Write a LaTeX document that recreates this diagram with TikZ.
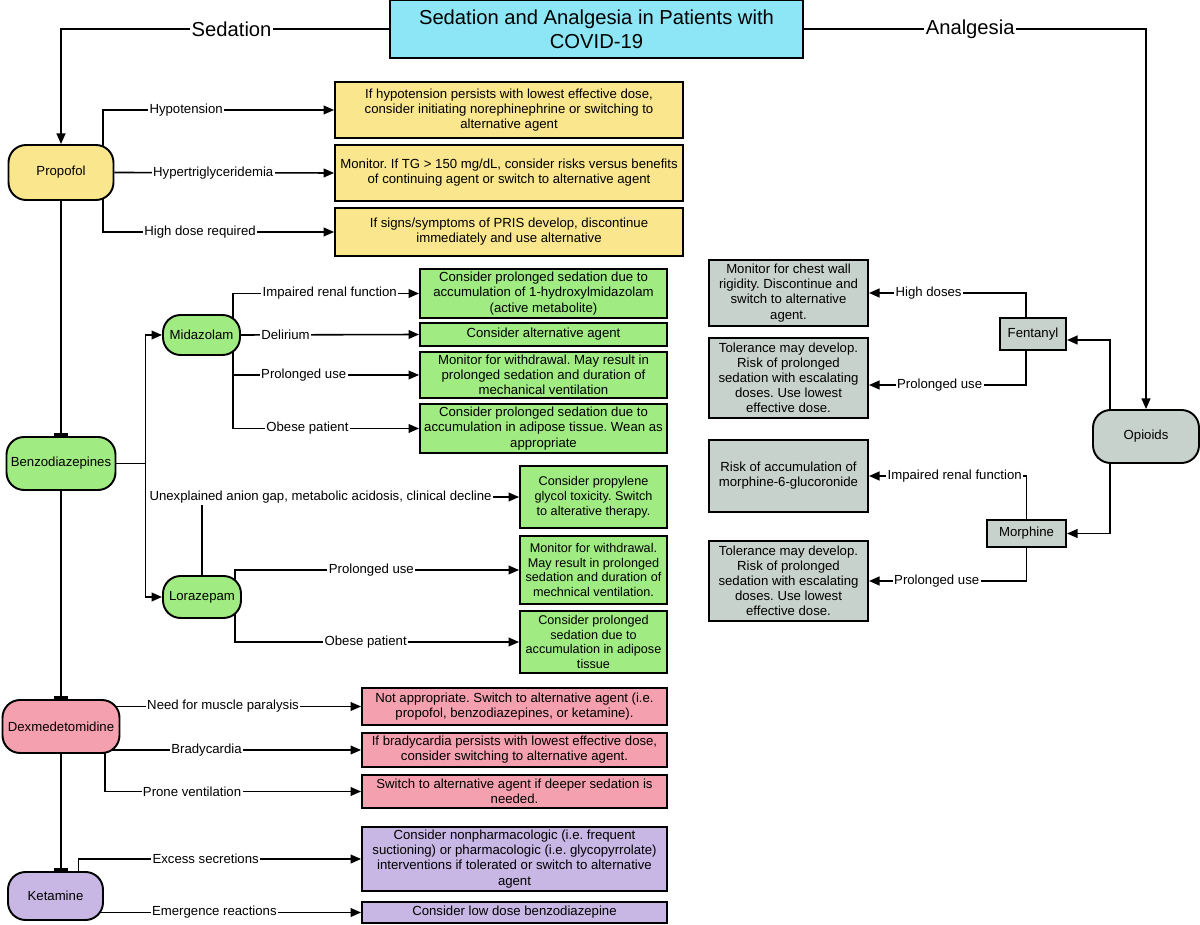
\documentclass[tikz,border=0pt]{standalone}
\usepackage{fontspec}
\setmainfont{Liberation Sans}
\frenchspacing
\usetikzlibrary{arrows.meta, calc, backgrounds}

\definecolor{titlecyan}{RGB}{140,230,245}
\definecolor{propyel}{RGB}{250,230,140}
\definecolor{benzgreen}{RGB}{160,235,130}
\definecolor{dexpink}{RGB}{245,160,175}
\definecolor{ketpurple}{RGB}{200,182,228}
\definecolor{opigray}{RGB}{200,210,205}

\tikzset{
  drug/.style   ={draw, line width=1.1pt, rounded corners=10pt, align=center,
                  font=\fontsize{7.5}{9}\selectfont, inner sep=2pt},
  note/.style   ={draw, line width=1.1pt, align=center,
                  font=\fontsize{7.5}{8.6}\selectfont, inner sep=2pt},
  arr/.style    ={-{Triangle[length=6pt, width=5pt]}, line width=0.9pt},
  barend/.style ={-{Bar[width=8pt, line width=1.6pt]}, line width=0.9pt},
  lbl/.style    ={fill=white, inner sep=0.8pt, font=\fontsize{7.5}{9}\selectfont},
  head/.style   ={fill=white, inner sep=1pt, font=\fontsize{11.5}{13}\selectfont},
}

\begin{document}
\begin{tikzpicture}[x=0.02cm, y=-0.02cm]
  \useasboundingbox (0,0) rectangle (1200,925);

  \node[note, fill=titlecyan, font=\fontsize{11.5}{13.5}\selectfont,
        minimum width=8.26cm, minimum height=1.16cm] (title) at (596.5,29)
        {Sedation and Analgesia in Patients with\\COVID-19};

  % propofol
  \node[drug, fill=propyel, minimum width=2.1cm, minimum height=1.1cm] (prop) at (61,172.5) {Propofol};
  \node[note, fill=propyel, minimum width=6.96cm, minimum height=1.12cm] (pb1) at (509,110)
        {If hypotension persists with lowest effective dose,\\consider initiating norephinephrine or switching to\\alternative agent};
  \node[note, fill=propyel, minimum width=6.96cm, minimum height=1.12cm] (pb2) at (509,173)
        {Monitor. If TG > 150 mg/dL, consider risks versus benefits\\of continuing agent or switch to alternative agent};
  \node[note, fill=propyel, minimum width=6.96cm, minimum height=0.96cm] (pb3) at (509,232)
        {If signs/symptoms of PRIS develop, discontinue\\immediately and use alternative};

  % benzodiazepines
  \node[drug, fill=benzgreen, minimum width=2.18cm, minimum height=1.06cm] (benzo) at (61,463.5) {Benzodiazepines};
  \node[drug, fill=benzgreen, minimum width=1.54cm, minimum height=0.8cm] (mida) at (201.5,335) {Midazolam};
  \node[drug, fill=benzgreen, minimum width=1.56cm, minimum height=0.84cm] (lora) at (202,597) {Lorazepam};
  \node[note, fill=benzgreen, minimum width=4.94cm, minimum height=0.94cm] (mb1) at (543.5,293.5)
        {Consider prolonged sedation due to\\accumulation of 1-hydroxylmidazolam\\(active metabolite)};
  \node[note, fill=benzgreen, minimum width=4.94cm, minimum height=0.46cm] (mb2) at (543.5,334.5)
        {Consider alternative agent};
  \node[note, fill=benzgreen, minimum width=4.94cm, minimum height=0.88cm] (mb3) at (543.5,375)
        {Monitor for withdrawal. May result in\\prolonged sedation and duration of\\mechanical ventilation};
  \node[note, fill=benzgreen, minimum width=4.94cm, minimum height=0.98cm] (mb4) at (543.5,428.5)
        {Consider prolonged sedation due to\\accumulation in adipose tissue. Wean as\\appropriate};
  \node[note, fill=benzgreen, font=\fontsize{7.2}{8.4}\selectfont,
        minimum width=2.94cm, minimum height=1.24cm] (lb1) at (593.5,497)
        {Consider propylene\\glycol toxicity. Switch\\to alterative therapy.};
  \node[note, fill=benzgreen, font=\fontsize{7.2}{8.4}\selectfont,
        minimum width=2.94cm, minimum height=1.36cm] (lb2) at (593.5,570)
        {Monitor for withdrawal.\\May result in prolonged\\sedation and duration of\\mechnical ventilation.};
  \node[note, fill=benzgreen, font=\fontsize{7.2}{8.4}\selectfont,
        minimum width=2.94cm, minimum height=1.24cm] (lb3) at (593.5,642)
        {Consider prolonged\\sedation due to\\accumulation in adipose\\tissue};

  % dexmedetomidine
  \node[drug, fill=dexpink, minimum width=2.34cm, minimum height=1.06cm] (dex) at (61,726.5) {Dexmedetomidine};
  \node[note, fill=dexpink, minimum width=6.1cm, minimum height=0.74cm] (db1) at (514.5,706.5)
        {Not appropriate. Switch to alternative agent (i.e.\\propofol, benzodiazepines, or ketamine).};
  \node[note, fill=dexpink, minimum width=6.1cm, minimum height=0.68cm] (db2) at (514.5,750)
        {If bradycardia persists with lowest effective dose,\\consider switching to alternative agent.};
  \node[note, fill=dexpink, minimum width=6.1cm, minimum height=0.66cm] (db3) at (514.5,791.5)
        {Switch to alternative agent if deeper sedation is\\needed.};

  % ketamine
  \node[drug, fill=ketpurple, minimum width=1.9cm, minimum height=0.96cm] (keta) at (55.5,896) {Ketamine};
  \node[note, fill=ketpurple, minimum width=6.1cm, minimum height=1.28cm] (kb1) at (514.5,859)
        {Consider nonpharmacologic (i.e. frequent\\suctioning) or pharmacologic (i.e. glycopyrrolate)\\interventions if tolerated or switch to alternative\\agent};
  \node[note, fill=ketpurple, minimum width=6.1cm, minimum height=0.42cm] (kb2) at (514.5,912.5)
        {Consider low dose benzodiazepine};

  % opioids
  \node[drug, fill=opigray, minimum width=2.12cm, minimum height=1.06cm] (opi) at (1146,436.5) {Opioids};
  \node[note, fill=opigray, minimum width=1.32cm, minimum height=0.64cm] (fent) at (1033,334) {Fentanyl};
  \node[note, fill=opigray, minimum width=1.58cm, minimum height=0.54cm] (morph) at (1026.5,533.5) {Morphine};
  \node[note, fill=opigray, minimum width=3.18cm, minimum height=1.32cm] (fb1) at (788.5,293)
        {Monitor for chest wall\\rigidity. Discontinue and\\switch to alternative\\agent.};
  \node[note, fill=opigray, minimum width=3.18cm, minimum height=1.6cm] (fb2) at (788.5,378)
        {Tolerance may develop.\\Risk of prolonged\\sedation with escalating\\doses. Use lowest\\effective dose.};
  \node[note, fill=opigray, minimum width=3.18cm, minimum height=1.44cm] (ob1) at (788.5,476)
        {Risk of accumulation of\\morphine-6-glucoronide};
  \node[note, fill=opigray, minimum width=3.18cm, minimum height=1.6cm] (ob2) at (788.5,581)
        {Tolerance may develop.\\Risk of prolonged\\sedation with escalating\\doses. Use lowest\\effective dose.};

  \coordinate (bsplit) at ($(benzo.east)+(29,0)$);

  \begin{scope}[on background layer]
    \draw[arr] (title.west) -| node[head, pos=0.24]{Sedation} (prop.north);
    \draw[arr] (title.east) -| node[head, pos=0.243]{Analgesia} (opi.north);

    \draw[arr] ($(prop)+(42,0)$) |- node[lbl, pos=0.68]{Hypotension} (pb1.west);
    \draw[arr] (prop.east) -- node[lbl, pos=0.45]{Hypertriglyceridemia} (pb2.west);
    \draw[arr] ($(prop)+(42,0)$) |- node[lbl, pos=0.71]{High dose required} (pb3.west);
    \draw[barend] (prop.south) -- (benzo.north);

    \draw[line width=0.9pt] (benzo.east) -- (bsplit);
    \draw[arr] (bsplit) |- (mida.west);
    \draw[arr] (bsplit) |- (lora.west);
    \draw[barend] (benzo.south) -- (dex.north);

    \draw[arr] ($(mida)+(31.5,0)$) |- node[lbl, pos=0.76]{Impaired renal function} (mb1.west);
    \draw[arr] (mida.east) -- node[lbl, pos=0.25]{Delirium} (mb2.west);
    \draw[arr] ($(mida)+(31.5,0)$) |- node[lbl, pos=0.69]{Prolonged use} (mb3.west);
    \draw[arr] ($(mida)+(31.5,0)$) |- node[lbl, pos=0.70]{Obese patient} (mb4.west);

    \draw[arr] (lora.center) |- node[lbl, pos=0.687]{Unexplained anion gap, metabolic acidosis, clinical decline} (lb1.west);
    \draw[arr] ($(lora)+(33,0)$) |- node[lbl, pos=0.74]{Prolonged use} (lb2.west);
    \draw[arr] ($(lora)+(33,0)$) |- node[lbl, pos=0.73]{Obese patient} (lb3.west);

    \draw[arr] (dex.center |- db1.west) -- node[lbl, pos=0.54]{Need for muscle paralysis} (db1.west);
    \draw[arr] (dex.center |- db2.west) -- node[lbl, pos=0.485]{Bradycardia} (db2.west);
    \draw[arr] ($(dex)+(44,0)$) |- node[lbl, pos=0.67]{Prone ventilation} (db3.west);
    \draw[barend] (dex.south) -- (dex.south |- keta.north);

    \draw[arr] ($(keta)+(23,0)$) |- node[lbl, pos=0.725]{Excess secretions} (kb1.west);
    \draw[arr] (keta.center |- kb2.west) -- node[lbl, pos=0.52]{Emergence reactions} (kb2.west);

    \draw[arr] ($(opi)+(-36,0)$) |- ($(fent.east)+(0,6)$);
    \draw[arr] ($(opi)+(-36,0)$) |- (morph.east);

    \draw[arr] ($(fent)+(-7,0)$) |- node[lbl, pos=0.81]{High doses} (fb1.east);
    \draw[arr] ($(fent)+(-7,0)$) |- node[lbl, pos=0.775]{Prolonged use} ($(fb2.east)+(0,7)$);
    \draw[arr] (morph.center) |- node[lbl, pos=0.728]{Impaired renal function} (ob1.east);
    \draw[arr] (morph.center) |- node[lbl, pos=0.785]{Prolonged use} (ob2.east);
  \end{scope}
\end{tikzpicture}
\end{document}
